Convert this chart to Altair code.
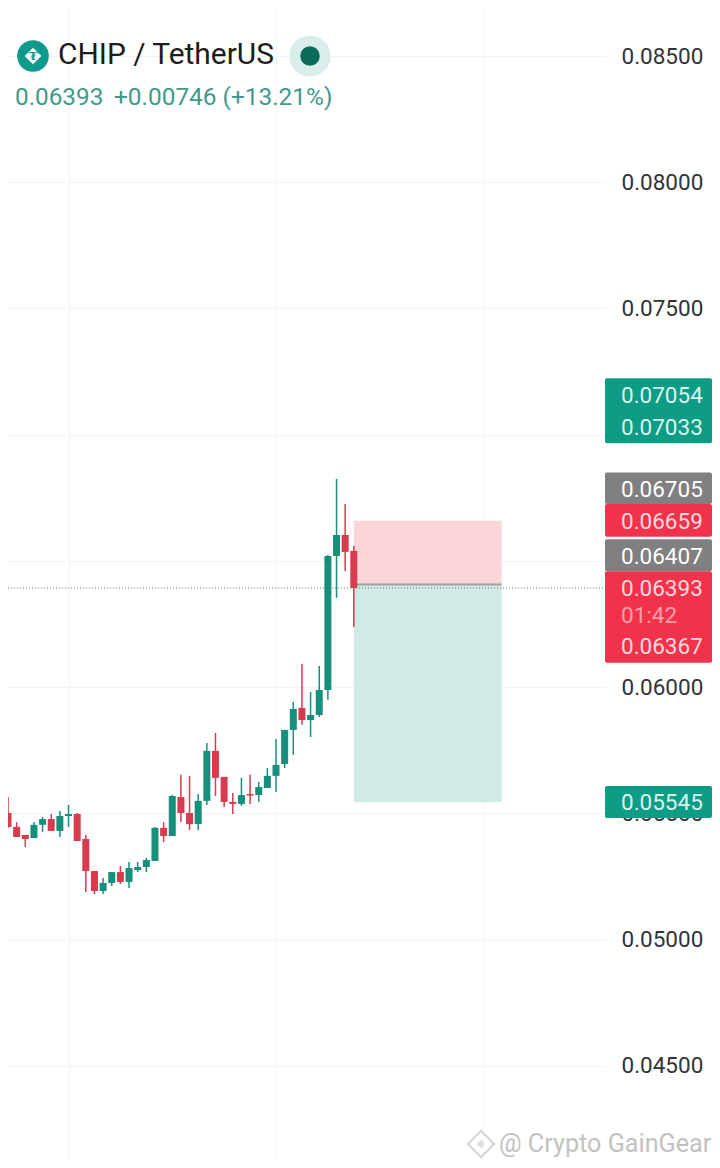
import altair as alt
import pandas as pd

index = list(range(42))
open_ = [.05482,.05502,.05447,.05415,.05403,.05455,.05478,.05431,.05490,.05498,
         .05399,.05272,.05193,.05225,.05268,.05229,.05276,.05288,.05312,.05443,
         .05411,.05565,.05502,.05458,.05550,.05748,.05645,.05546,.05538,.05577,
         .05573,.05601,.05649,.05696,.05831,.05918,.05870,.05890,.05989,.06520,
         .06603,.06540]
close = [.05502,.05447,.05407,.05399,.05455,.05478,.05431,.05490,.05498,.05391,
         .05272,.05193,.05225,.05268,.05229,.05284,.05288,.05316,.05443,.05411,
         .05569,.05502,.05458,.05550,.05748,.05641,.05546,.05538,.05573,.05571,
         .05605,.05649,.05692,.05831,.05914,.05870,.05890,.05989,.06520,.06603,
         .06536,.06393]
high = [.05502,.05565,.05466,.05415,.05466,.05486,.05498,.05510,.05534,.05502,
        .05415,.05272,.05245,.05268,.05292,.05308,.05308,.05324,.05447,.05466,
        .05573,.05653,.05649,.05577,.05779,.05819,.05645,.05581,.05641,.05653,
        .05625,.05680,.05795,.05831,.05942,.06092,.05981,.06084,.06524,.06825,
        .06726,.06559]
low = [.05482,.05443,.05407,.05367,.05403,.05427,.05431,.05407,.05447,.05391,
       .05189,.05181,.05181,.05213,.05221,.05205,.05268,.05268,.05312,.05387,
       .05411,.05466,.05435,.05435,.05534,.05569,.05526,.05498,.05530,.05538,
       .05546,.05601,.05585,.05680,.05732,.05851,.05803,.05882,.05950,.06354,
       .06460,.06239]

y_ticks = [.045, .05, .055, .06, .065, .07, .075, .08, .085]
x_grid = [8, 32, 56]

GREEN, RED = "#168f7b", "#d83a4e"
df = pd.DataFrame({"i": index, "open": open_, "close": close, "high": high, "low": low})
df["up"] = df["close"] >= df["open"]

entry_price, stop_price, target_price, last_price = .06407, .06659, .05545, .06393
pos_start, pos_end = 41, 58.1

tag_top = [.07224, .06850, .06726, .06586, .06459, .05609]
tag_bottom = [.06966, .06726, .06596, .06459, .06097, .05482]
tag_fill = ["#0e9c84", "#808080", "#f0334a", "#808080", "#f0334a", "#0e9c84"]

tag_text = ["0.07054", "0.07033", "0.06705", "0.06659", "0.06407", "0.06393", "01:42", "0.06367", "0.05545"]
tag_text_price = [.07157, .07031, .06785, .06658, .06520, .06393, .06286, .06163, .05546]
tag_text_color = ["#d8f5ee", "#d8f5ee", "#ffffff", "#ffd9de", "#ffffff", "#ffd9de", "#ff9fac", "#ffd9de", "#d8f5ee"]

x_scale = alt.Scale(domain=[1.0, 70.055], nice=False, zero=False, padding=0)
y_scale = alt.Scale(domain=[0.041277, 0.086901], nice=False, zero=False)
FONT = "Roboto"
GRID = "#f3f4f6"

x_axis = alt.Axis(values=x_grid, grid=True, gridColor=GRID, labels=False, ticks=False,
                  domain=False, title=None, orient="bottom")
# 0.065 and 0.07 sit fully behind the price tags, as in the reference
y_axis = alt.Axis(orient="right", values=y_ticks, title=None, grid=True,
                  labelExpr="datum.value == 0.065 || datum.value == 0.07 ? '' : format(datum.value, '.5f')",
                  gridColor=GRID, ticks=False, domain=False, labelPadding=16,
                  labelFont=FONT, labelFontSize=22.5, labelColor="#333333", labelOverlap=False)


def XQ(field):
    return alt.X(field, scale=x_scale, axis=x_axis)


def YQ(field):
    return alt.Y(field, scale=y_scale, axis=y_axis)


pos = pd.DataFrame({"a": [pos_start, pos_start], "b": [pos_end, pos_end],
                    "p1": [stop_price, entry_price], "p2": [entry_price, target_price],
                    "c": ["#fbd6d9", "#d0ebe5"]})
position = alt.Chart(pos).mark_rect().encode(
    x=XQ("a:Q"), x2="b:Q", y=YQ("p1:Q"), y2="p2:Q", color=alt.Color("c:N", scale=None))
entry = alt.Chart(pd.DataFrame({"a": [pos_start], "b": [pos_end], "p": [entry_price]})).mark_rule(
    color="#a0a0a0", strokeWidth=2).encode(x=XQ("a:Q"), x2="b:Q", y=YQ("p:Q"))

last = alt.Chart(pd.DataFrame({"p": [last_price]})).mark_rule(
    color="#777777", strokeWidth=1, strokeDash=[1, 2]).encode(
    x=alt.value(0), x2=alt.value(597), y=YQ("p:Q"))

color = alt.Color("up:N", scale=alt.Scale(domain=[True, False], range=[GREEN, RED]), legend=None)
wicks = alt.Chart(df).mark_rule(strokeWidth=1.5).encode(
    x=XQ("i:Q"), y=YQ("low:Q"), y2="high:Q", color=color)
bodies = alt.Chart(df).mark_bar(size=7).encode(
    x=XQ("i:Q"), y=YQ("open:Q"), y2="close:Q", color=color)

tags = alt.Chart(pd.DataFrame({"t": tag_top, "b": tag_bottom, "c": tag_fill})).mark_rect(cornerRadius=2).encode(
    x=alt.value(597), x2=alt.value(704), y=YQ("t:Q"), y2="b:Q",
    color=alt.Color("c:N", scale=None))
tag_labels = alt.Chart(pd.DataFrame({"s": tag_text, "p": tag_text_price, "c": tag_text_color})).mark_text(
    align="left", baseline="middle", font=FONT, fontSize=22.5, dy=1).encode(
    x=alt.value(613), y=YQ("p:Q"), text="s:N", color=alt.Color("c:N", scale=None))


def txt(s, x, y, size, color, **kw):
    return alt.Chart(pd.DataFrame({"s": [s]})).mark_text(
        align=kw.pop("align", "left"), baseline="middle", font=FONT, fontSize=size, color=color, **kw
    ).encode(x=alt.value(x), y=alt.value(y), text="s:N")


def dot(x, y, size, color, shape="circle", **kw):
    return alt.Chart(pd.DataFrame({"k": [0]})).mark_point(
        filled=True, shape=shape, size=size, color=color, opacity=1, **kw
    ).encode(x=alt.value(x), y=alt.value(y))


header = [
    dot(25, 48, 1000, "#0e9a8c"),
    dot(25, 48, 280, "#ffffff", shape="diamond"),
    txt("₮", 25, 48, 13, "#0e9a8c", align="center", fontWeight="bold"),
    txt("CHIP / TetherUS", 50, 47, 29.9, "#1c1c1c"),
    dot(302, 48, 1700, "#d9eeea"),
    dot(302, 48, 380, "#0b6b5a"),
    txt("0.06393", 7, 90, 24.3, "#3f9a8c"),
    txt("+0.00746 (+13.21%)", 106, 90, 24.4, "#3f9a8c"),
]
watermark = [
    alt.Chart(pd.DataFrame({"k": [0]})).mark_point(
        shape="diamond", size=700, color="#d4d4d4", strokeWidth=2, opacity=1
    ).encode(x=alt.value(473), y=alt.value(1136)),
    dot(473, 1136, 70, "#dddddd", shape="diamond"),
    txt("@ Crypto GainGear", 491, 1136, 25.2, "#c2c2c2"),
]

chart = alt.layer(
    position, entry, last, wicks, bodies, tags, tag_labels, *header, *watermark
).resolve_scale(color="independent").properties(
    width=597, height=1152,
    padding={"left": 0, "top": 0, "right": 107, "bottom": 0},
    autosize=alt.AutoSizeParams(type="none"),
    background="#ffffff",
).configure_view(stroke=None)

chart.save("out.html", embed_options={"renderer": "svg", "actions": False})
